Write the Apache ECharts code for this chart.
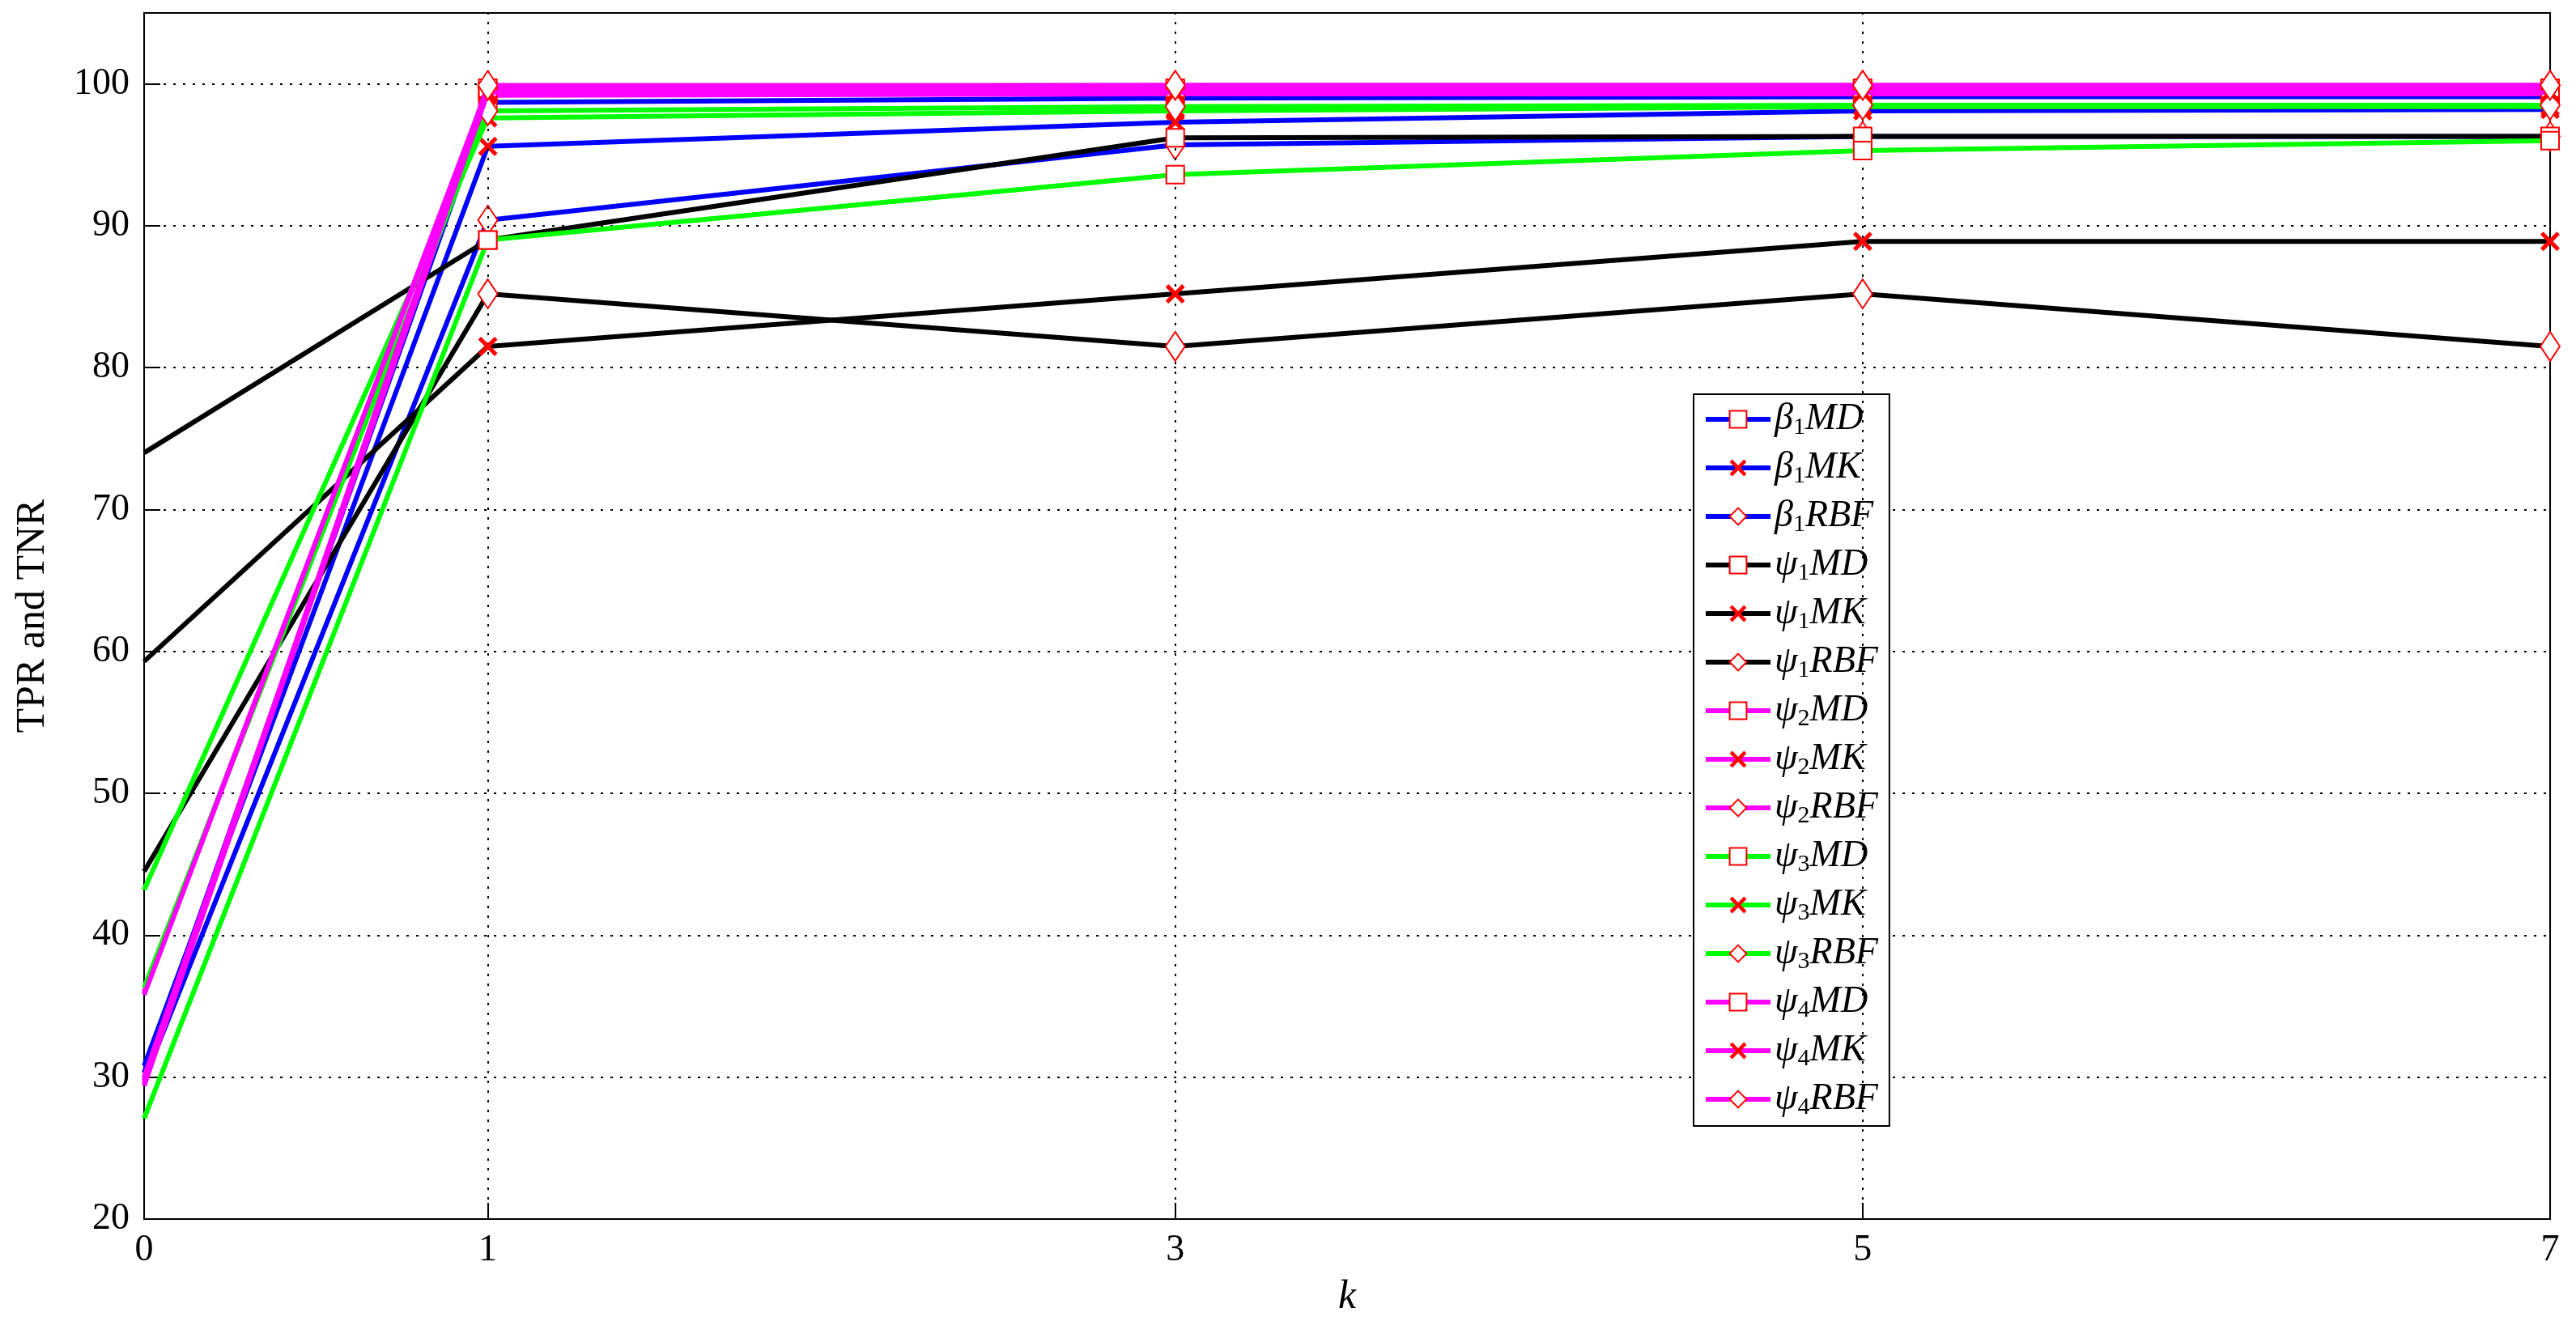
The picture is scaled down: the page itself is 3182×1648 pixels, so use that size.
<!DOCTYPE html>
<html>
<head>
<meta charset="utf-8">
<script src="https://cdn.jsdelivr.net/npm/echarts@6/dist/echarts.min.js"></script>
<style>html,body{margin:0;padding:0;background:#fff}#chart{width:3182px;height:1648px}</style>
</head>
<body>
<div id="chart"></div>
<script>
// k values along the x axis
const kValues = [0, 1, 3, 5, 7];
const xLabels = [0, 1, 3, 5, 7];

// series names: [base letter, subscript, method]
const names = [
  ['β', '1', 'MD'], ['β', '1', 'MK'], ['β', '1', 'RBF'],
  ['ψ', '1', 'MD'], ['ψ', '1', 'MK'], ['ψ', '1', 'RBF'],
  ['ψ', '2', 'MD'], ['ψ', '2', 'MK'], ['ψ', '2', 'RBF'],
  ['ψ', '3', 'MD'], ['ψ', '3', 'MK'], ['ψ', '3', 'RBF'],
  ['ψ', '4', 'MD'], ['ψ', '4', 'MK'], ['ψ', '4', 'RBF']
];
const lineColors = ['#0000ff', '#000000', '#ff00ff', '#00ff00', '#ff00ff'];

// TPR/TNR values per series
const beta1MD = [30.3, 98.7, 99.0, 99.1, 99.1];
const beta1MK = [30.8, 95.6, 97.3, 98.1, 98.2];
const beta1RBF = [29.8, 90.4, 95.7, 96.3, 96.3];
const psi1MD = [74.0, 89.0, 96.2, 96.3, 96.3];
const psi1MK = [59.3, 81.5, 85.2, 88.9, 88.9];
const psi1RBF = [44.5, 85.2, 81.5, 85.2, 81.5];
const psi2MD = [36.0, 99.5, 99.6, 99.6, 99.6];
const psi2MK = [29.8, 99.2, 99.3, 99.3, 99.3];
const psi2RBF = [29.4, 99.8, 99.9, 99.9, 99.9];
const psi3MD = [27.1, 89.0, 93.6, 95.3, 96.0];
const psi3MK = [43.2, 97.6, 98.1, 98.4, 98.4];
const psi3RBF = [36.3, 98.1, 98.4, 98.5, 98.5];
const psi4MD = [35.8, 99.7, 99.7, 99.7, 99.7];
const psi4MK = [30.0, 99.4, 99.4, 99.4, 99.4];
const psi4RBF = [29.6, 99.9, 99.9, 99.9, 99.9];
const allValues = [beta1MD, beta1MK, beta1RBF, psi1MD, psi1MK, psi1RBF, psi2MD, psi2MK, psi2RBF,
  psi3MD, psi3MK, psi3RBF, psi4MD, psi4MK, psi4RBF];

const xPath = 'path://M0,1.5L1.5,0L5,3.5L8.5,0L10,1.5L6.5,5L10,8.5L8.5,10L5,6.5L1.5,10L0,8.5L3.5,5Z';
const symbols = ['emptyRect', xPath, 'emptyDiamond'];
const symbolSizes = [22, 24, [24, 36]];

const label = (n) => '{i|' + n[0] + '}{s|' + n[1] + '}{i|' + n[2] + '}';

const series = allValues.map((vals, i) => {
  const m = i % 3;
  const s = {
    name: label(names[i]),
    type: 'line',
    z: 2 + i,
    symbol: symbols[m],
    symbolSize: symbolSizes[m],
    lineStyle: { color: lineColors[Math.floor(i / 3)], width: 6 },
    itemStyle: { color: '#ff0000', borderColor: '#ff0000', borderWidth: m === 1 ? 0 : 6 },
    data: vals.map((v, j) => j === 0 ? { value: [kValues[j], v], symbol: 'none' } : [kValues[j], v]),
    animation: false
  };
  if (i === 0) {
    s.markLine = {
      silent: true, symbol: 'none', label: { show: false },
      lineStyle: { color: '#000', type: [3, 9], width: 2 },
      data: [{ xAxis: 1 }, { xAxis: 3 }, { xAxis: 5 }]
    };
  }
  return s;
});

const chart = echarts.init(document.getElementById('chart'));
chart.setOption({
  animation: false,
  grid: { left: 178, right: 32, top: 16, bottom: 142, show: true, borderColor: '#000', borderWidth: 2 },
  xAxis: {
    type: 'value', min: 0, max: 7, interval: 1,
    name: 'k', nameLocation: 'middle', nameGap: 72,
    nameTextStyle: { fontFamily: 'Liberation Serif', fontStyle: 'italic', fontSize: 50, color: '#000' },
    axisLine: { lineStyle: { color: '#000', width: 2 } },
    axisTick: { inside: true, length: 20, customValues: [1, 3, 5], lineStyle: { color: '#000', width: 2 } },
    axisLabel: { customValues: xLabels, fontFamily: 'Liberation Serif', fontSize: 46, color: '#000', margin: 16 },
    splitLine: { show: false }
  },
  yAxis: {
    type: 'value', min: 20, max: 105, interval: 10,
    name: 'TPR and TNR', nameLocation: 'middle', nameGap: 112,
    nameTextStyle: { fontFamily: 'Liberation Serif', fontSize: 50, color: '#000' },
    axisLine: { lineStyle: { color: '#000', width: 2 } },
    axisTick: { inside: true, length: 20, lineStyle: { color: '#000', width: 2 } },
    axisLabel: { fontFamily: 'Liberation Serif', fontSize: 46, color: '#000', margin: 18,
      formatter: (v) => v > 100 ? '' : v },
    splitLine: { lineStyle: { color: '#000', type: [3, 9], width: 2 } }
  },
  legend: {
    orient: 'vertical', left: 2092, top: 487, width: 306, height: 928,
    backgroundColor: '#fff', borderColor: '#000', borderWidth: 2,
    padding: [8, 14, 8, 12], itemGap: 12, itemWidth: 80, itemHeight: 26,
    lineStyle: { width: 6 },
    textStyle: {
      color: '#000', fontSize: 46,
      rich: {
        i: { fontFamily: 'Liberation Serif', fontStyle: 'italic', fontSize: 46, color: '#000' },
        s: { fontFamily: 'Liberation Serif', fontSize: 30, verticalAlign: 'bottom', padding: [20, 0, 0, 0], color: '#000' }
      }
    },
    data: series.map(s => s.name)
  },
  series: series
});
</script>
</body>
</html>
